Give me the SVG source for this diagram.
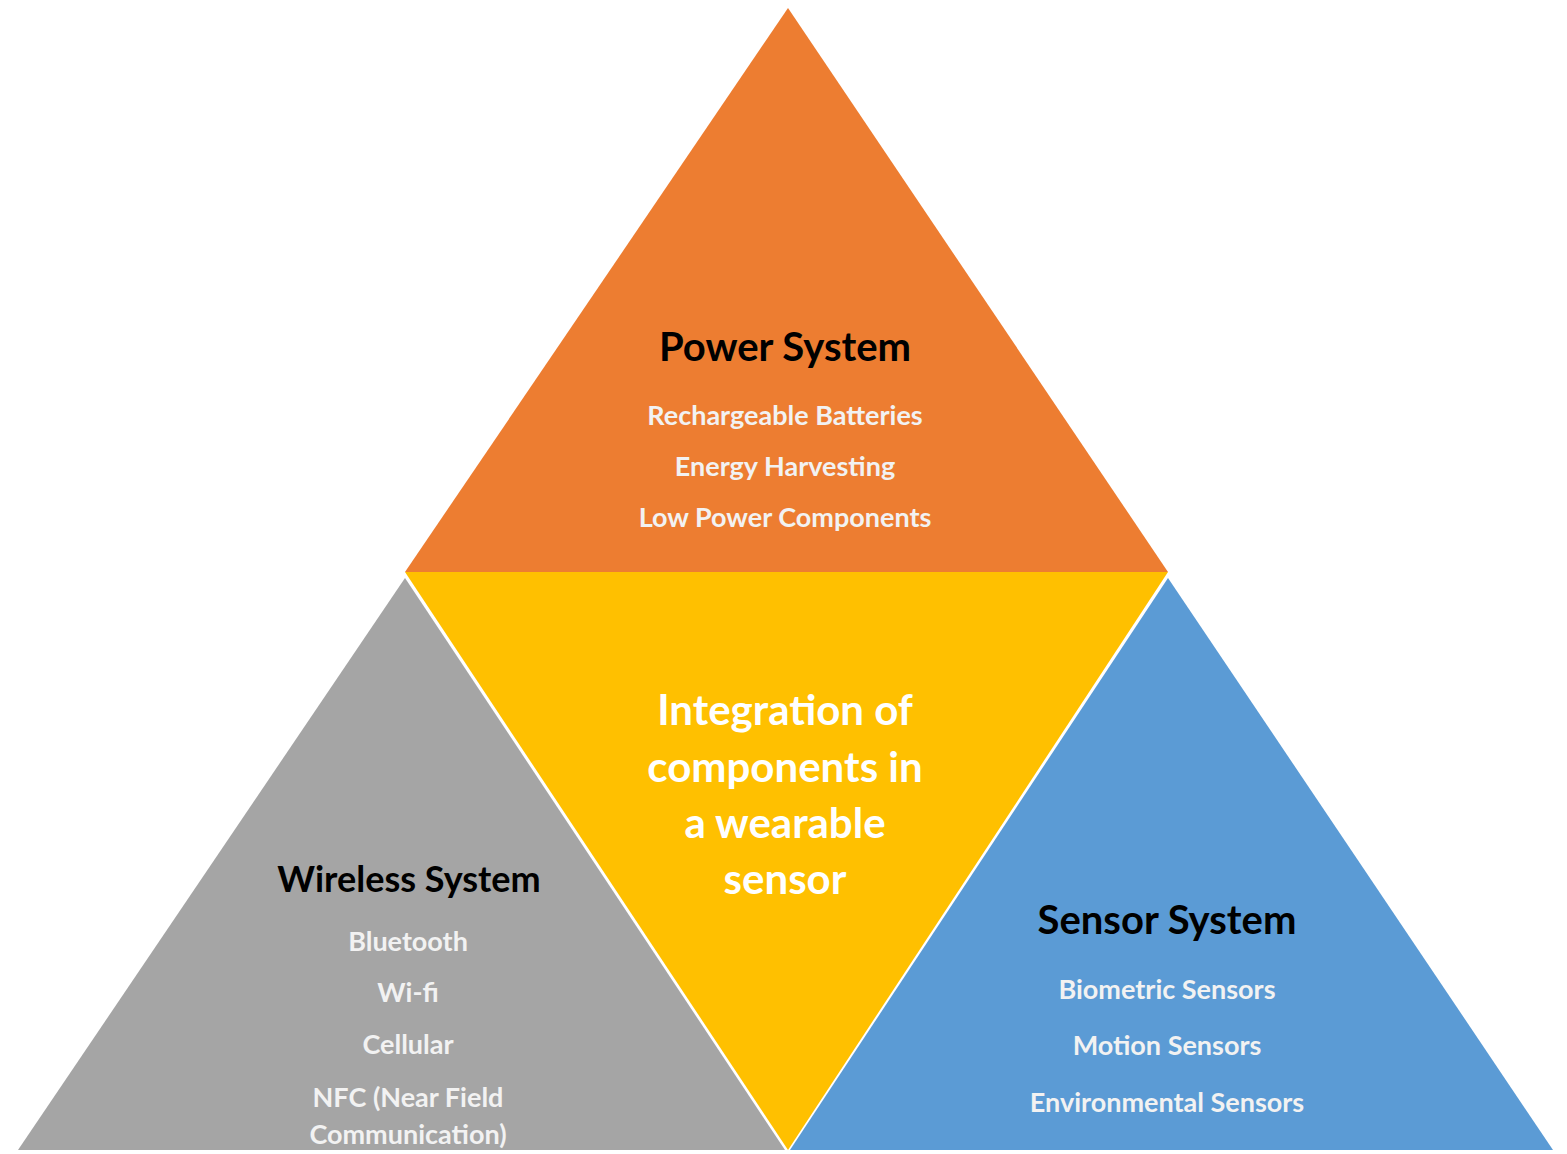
<svg xmlns="http://www.w3.org/2000/svg" width="1567" height="1154" viewBox="0 0 1567 1154">
<style>
text{font-family:Lato,"Open Sans","Liberation Sans",sans-serif;font-weight:bold;text-anchor:middle}
.t{fill:#000;font-size:40px}
.i{fill:#F2F2F2;font-size:27px}
.c{fill:#fff;font-size:42px}
</style>
<rect width="1567" height="1154" fill="#fff"/>
<g id="power">
<polygon points="788,8 1168,572 405,572" fill="#ED7D31"/>
<text class="t" x="785" y="361">Power System</text>
<text class="i" x="785" y="425">Rechargeable  Batteries</text>
<text class="i" x="785" y="476">Energy Harvesting</text>
<text class="i" x="785" y="527">Low Power Components</text>
</g>
<g id="center">
<polygon points="405,572 1168,572 788,1150" fill="#FFC000"/>
<text class="c" x="785" y="725">Integration of</text>
<text class="c" x="785" y="782">components in</text>
<text class="c" x="785" y="838">a wearable</text>
<text class="c" x="785" y="894">sensor</text>
</g>
<g id="wireless">
<polygon points="405,578 785,1150 18,1150" fill="#A5A5A5"/>
<text class="t" x="409" y="892" style="font-size:36px">Wireless System</text>
<text class="i" x="408" y="951">Bluetooth</text>
<text class="i" x="408" y="1002">Wi-fi</text>
<text class="i" x="408" y="1054">Cellular</text>
<text class="i" x="408" y="1107">NFC (Near Field</text>
<text class="i" x="408" y="1144">Communication)</text>
</g>
<g id="sensor">
<polygon points="1168,578 1553,1150 790,1150" fill="#5B9BD5"/>
<text class="t" x="1167" y="934">Sensor System</text>
<text class="i" x="1167" y="999">Biometric Sensors</text>
<text class="i" x="1167" y="1055">Motion Sensors</text>
<text class="i" x="1167" y="1112">Environmental Sensors</text>
</g>
<g id="connectors"/>
</svg>
